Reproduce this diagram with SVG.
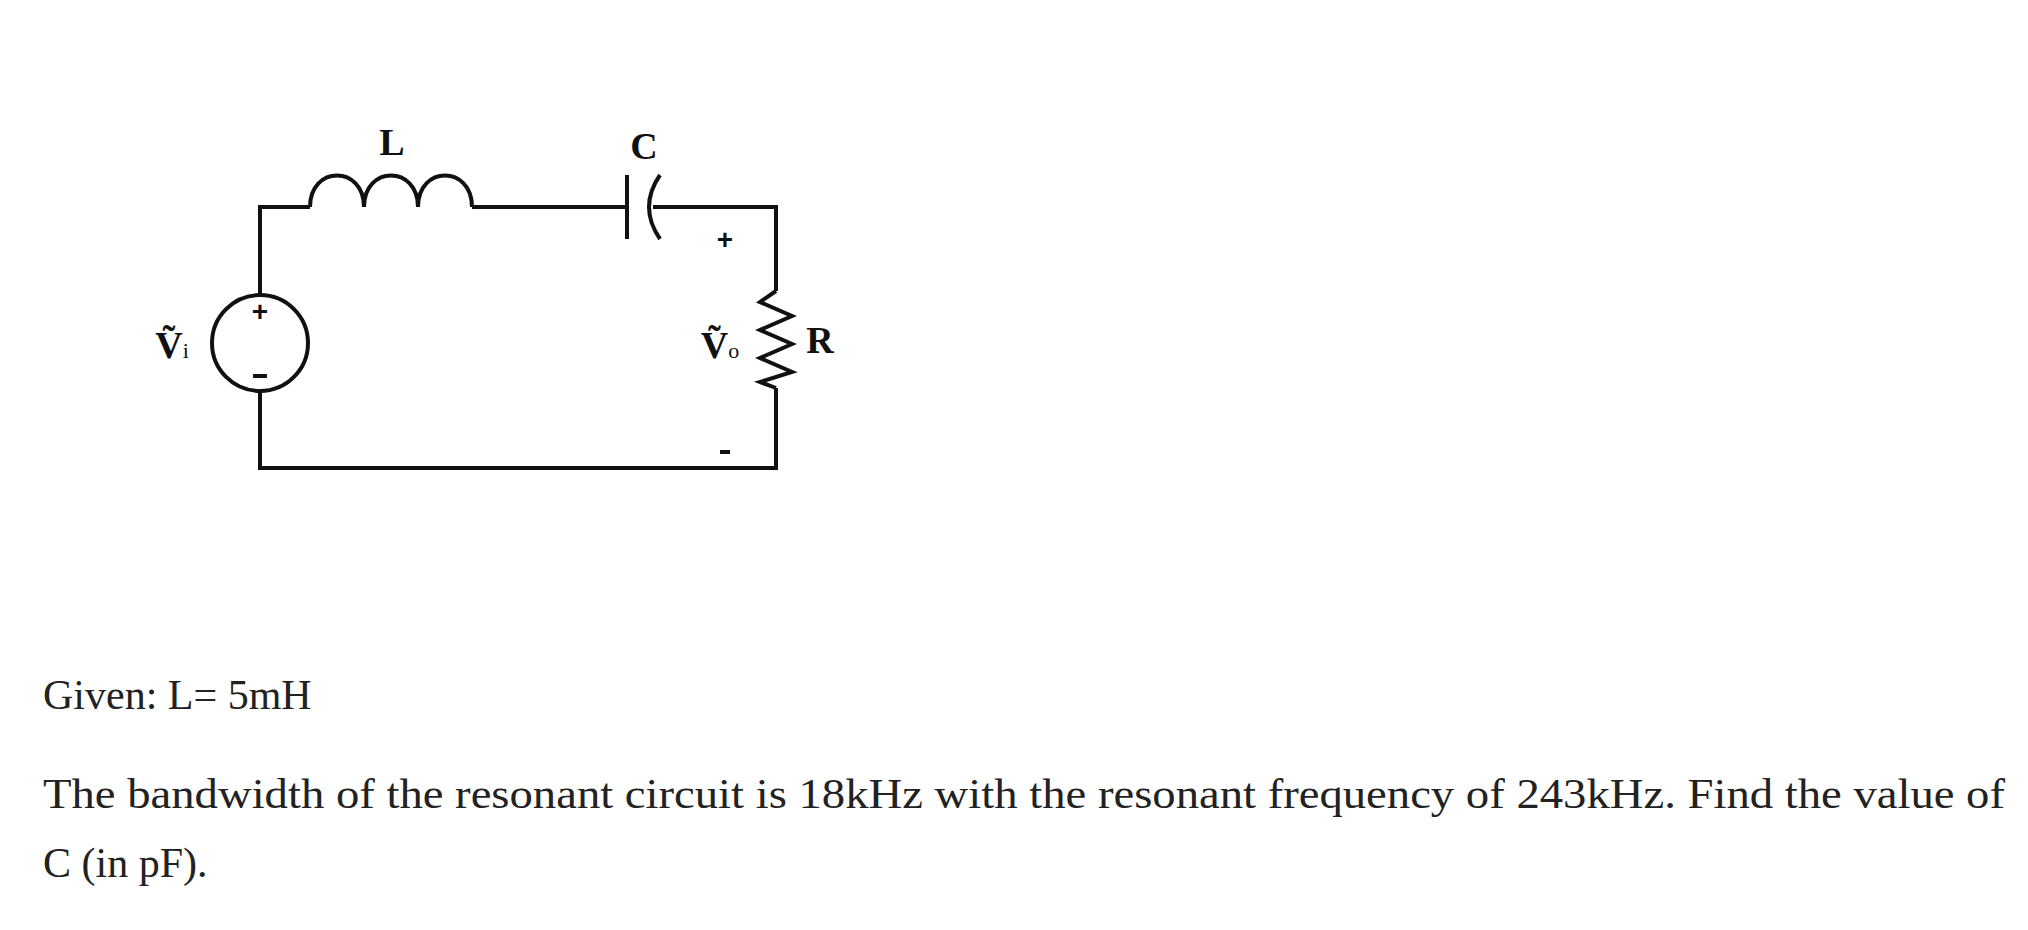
<svg xmlns="http://www.w3.org/2000/svg" width="2028" height="930" viewBox="0 0 2028 930">
<style>
.w{fill:none;stroke:#111;stroke-width:4;stroke-linejoin:miter}
.lb{font-family:"Liberation Serif",serif;font-weight:bold;font-size:38px;fill:#111}
.t{font-family:"Liberation Serif",serif;font-size:42px;fill:#222}
.s{font-family:"Liberation Sans",sans-serif;font-weight:bold;font-size:28px;fill:#111}
</style>
<rect width="2028" height="930" fill="#fff"/>
<g id="connectors">
<path class="w" d="M260,295 V207 H310 M472,207 H627 M653,207 H776 V291 M776,388 V468 H260 V391"/>
</g>
<g id="inductor">
<path class="w" d="M310,207 C310,165 364,165 364,207 C364,165 418,165 418,207 C418,165 472,165 472,207"/>
<text class="lb" x="392" y="155" text-anchor="middle">L</text>
</g>
<g id="capacitor">
<path class="w" d="M627,175 V239 M660,175 Q638,207 660,239"/>
<text class="lb" x="644" y="159" text-anchor="middle">C</text>
</g>
<g id="source">
<circle class="w" cx="260" cy="343" r="48"/>
<text class="s" x="260" y="321" text-anchor="middle">+</text>
<path class="w" d="M253,376 H267"/>
<text class="lb" x="172" y="358" text-anchor="middle">V&#x303;<tspan font-size="22" font-weight="normal">i</tspan></text>
</g>
<g id="resistor">
<path class="w" d="M776,291 L760,302 L792,316 L760,330 L792,344 L760,358 L792,372 L760,382 L776,388"/>
<text class="lb" x="820" y="353" text-anchor="middle">R</text>
<text class="lb" x="720" y="358" text-anchor="middle">V&#x303;<tspan font-size="22" font-weight="normal">o</tspan></text>
<text class="s" x="725" y="249" text-anchor="middle">+</text>
<path class="w" d="M720,452 H730"/>
</g>
<g id="text">
<text class="t" x="43" y="709">Given: L= 5mH</text>
<text class="t" x="43" y="808" textLength="1962" lengthAdjust="spacingAndGlyphs">The bandwidth of the resonant circuit is 18kHz with the resonant frequency of 243kHz. Find the value of</text>
<text class="t" x="43" y="877">C (in pF).</text>
</g>
</svg>
